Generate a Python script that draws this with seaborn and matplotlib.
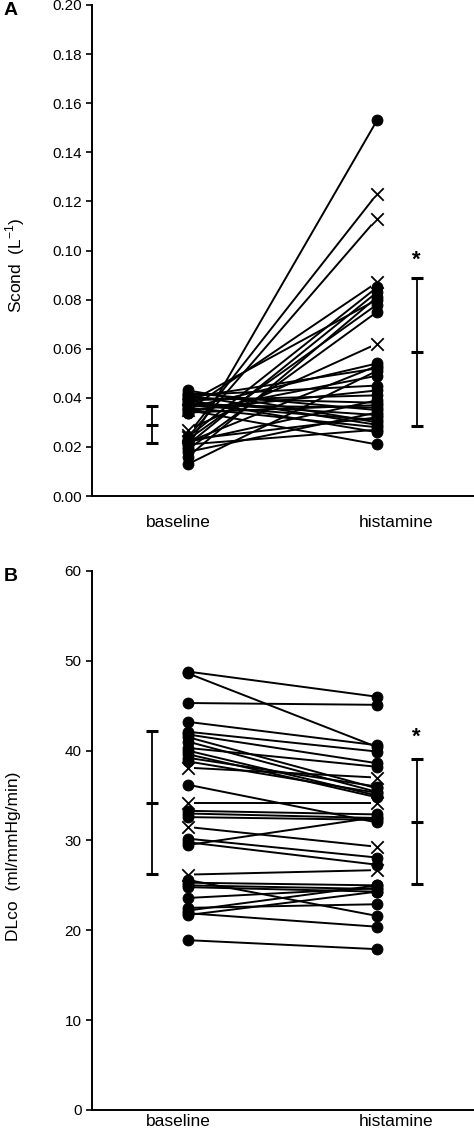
import numpy as np
import pandas as pd
import matplotlib
matplotlib.use("Agg")
import matplotlib.pyplot as plt
import seaborn as sns

# panel A: Scond (L^-1), subjects drawn with filled circles
scond_base = [0.043, 0.042, 0.041, 0.041, 0.040, 0.040, 0.039, 0.039, 0.038, 0.038,
              0.037, 0.037, 0.036, 0.036, 0.035, 0.035, 0.034, 0.034, 0.024, 0.023,
              0.023, 0.022, 0.022, 0.021, 0.021, 0.020, 0.019, 0.018, 0.016, 0.013]
scond_hist = [0.030, 0.035, 0.045, 0.029, 0.038, 0.052, 0.026, 0.041, 0.033, 0.080,
              0.036, 0.031, 0.054, 0.028, 0.043, 0.021, 0.037, 0.049, 0.085, 0.032,
              0.078, 0.053, 0.039, 0.083, 0.027, 0.153, 0.075, 0.034, 0.081, 0.051]
# panel A: subjects drawn with crosses
scond_base_x = [0.025, 0.024, 0.035, 0.027]
scond_hist_x = [0.123, 0.113, 0.087, 0.062]
scond_mean = [0.029, 0.0587]
scond_sd = [0.0075, 0.0302]

# panel B: DLco (ml/mmHg/min)
dlco_base = [48.8, 48.6, 45.3, 43.2, 42.1, 41.8, 41.5, 41.0, 40.3, 40.0,
             39.6, 39.2, 38.8, 36.2, 33.3, 33.0, 32.6, 30.2, 29.8, 29.5,
             25.6, 25.3, 25.0, 24.8, 23.6, 22.5, 22.2, 21.9, 21.7, 18.9]
dlco_hist = [46.0, 40.4, 45.1, 40.6, 39.9, 38.6, 35.8, 35.4, 38.2, 35.0,
             34.8, 36.0, 35.3, 32.0, 32.9, 32.5, 32.3, 28.1, 27.3, 32.6,
             21.6, 25.0, 24.6, 24.3, 24.7, 22.9, 25.0, 20.4, 24.3, 17.9]
dlco_base_x = [38.1, 34.2, 31.5, 26.2]
dlco_hist_x = [37.0, 34.2, 29.3, 26.7]
dlco_mean = [34.2, 32.1]
dlco_sd = [7.95, 7.0]

conditions = ["baseline", "histamine"]
cond_pos = [0, 1]
bar_pos = [-0.19, 1.21]
label_pos = [-0.05, 1.1]


def long_table(base, hist, base_x, hist_x):
    rows = []
    n = len(base)
    for i in range(n):
        rows.append((i, "o", cond_pos[0], base[i]))
        rows.append((i, "o", cond_pos[1], hist[i]))
    for j in range(len(base_x)):
        rows.append((n + j, "x", cond_pos[0], base_x[j]))
        rows.append((n + j, "x", cond_pos[1], hist_x[j]))
    return pd.DataFrame(rows, columns=["subject", "kind", "pos", "value"])


def draw_panel(ax, df, means, sds, star_y, xpad):
    sns.lineplot(data=df, x="pos", y="value", units="subject", estimator=None,
                 color="black", lw=1.4, ax=ax, legend=False, zorder=2)
    circ = df[df["kind"] == "o"]
    crs = df[df["kind"] == "x"]
    # white patch behind the crosses, as in the original
    ax.scatter(crs["pos"], crs["value"], s=80, marker="s", color="white",
               edgecolors="none", zorder=3)
    sns.scatterplot(data=crs, x="pos", y="value", marker="x", s=80,
                    color="black", linewidth=1.3, ax=ax, zorder=4)
    sns.scatterplot(data=circ, x="pos", y="value", marker="o", s=62,
                    color="black", edgecolor="black", ax=ax, zorder=5)
    ax.errorbar(bar_pos, means, yerr=sds, fmt="_", color="black", ms=8, mew=2.2,
                elinewidth=1.3, capsize=4, capthick=1.3, zorder=6)
    ax.text(bar_pos[1], star_y, "*", ha="center", va="center",
            fontsize=16, fontweight="bold", color="black")
    ax.set_xlim(-0.508, 1.513)
    ax.set_xticks(label_pos)
    ax.set_xticklabels(conditions, fontsize=12.5, color="black")
    ax.tick_params(axis="x", length=0, pad=xpad)
    ax.tick_params(axis="y", length=4.5, width=1.2, labelsize=11, pad=3,
                   labelcolor="black", color="black")
    ax.set_xlabel("")
    for side in ["top", "right"]:
        ax.spines[side].set_visible(False)
    for side in ["left", "bottom"]:
        ax.spines[side].set_linewidth(1.4)
        ax.spines[side].set_color("black")


sns.set_style("ticks")
plt.rcParams["font.family"] = ["Liberation Sans", "DejaVu Sans"]
plt.rcParams["text.color"] = "black"

fig = plt.figure(figsize=(4.74, 11.34), dpi=100)
ax1 = fig.add_axes([0.194, 0.5626, 0.806, 0.433])
ax2 = fig.add_axes([0.194, 0.0212, 0.806, 0.4753])

draw_panel(ax1, long_table(scond_base, scond_hist, scond_base_x, scond_hist_x),
           scond_mean, scond_sd, 0.096, 14)
ax1.set_ylim(0, 0.20)
ax1.set_yticks(np.arange(0, 0.2001, 0.02))
ax1.set_yticklabels([f"{v:.2f}" for v in np.arange(0, 0.2001, 0.02)])
ax1.set_ylabel(r"Scond  (L$^{\mathregular{-1}}$)", fontsize=12.5, color="black")
ax1.yaxis.set_label_coords(-0.17, 0.47)

draw_panel(ax2, long_table(dlco_base, dlco_hist, dlco_base_x, dlco_hist_x),
           dlco_mean, dlco_sd, 41.5, 3)
ax2.set_ylim(0, 60)
ax2.set_yticks(range(0, 61, 10))
ax2.set_ylabel("DLco  (ml/mmHg/min)", fontsize=12.5, color="black")
ax2.yaxis.set_label_coords(-0.185, 0.47)

fig.text(0.008, 0.9905, "A", fontsize=14, fontweight="bold", va="center",
         color="black")
fig.text(0.008, 0.4912, "B", fontsize=14, fontweight="bold", va="center",
         color="black")

fig.savefig("out.png", dpi=100, facecolor="white")
